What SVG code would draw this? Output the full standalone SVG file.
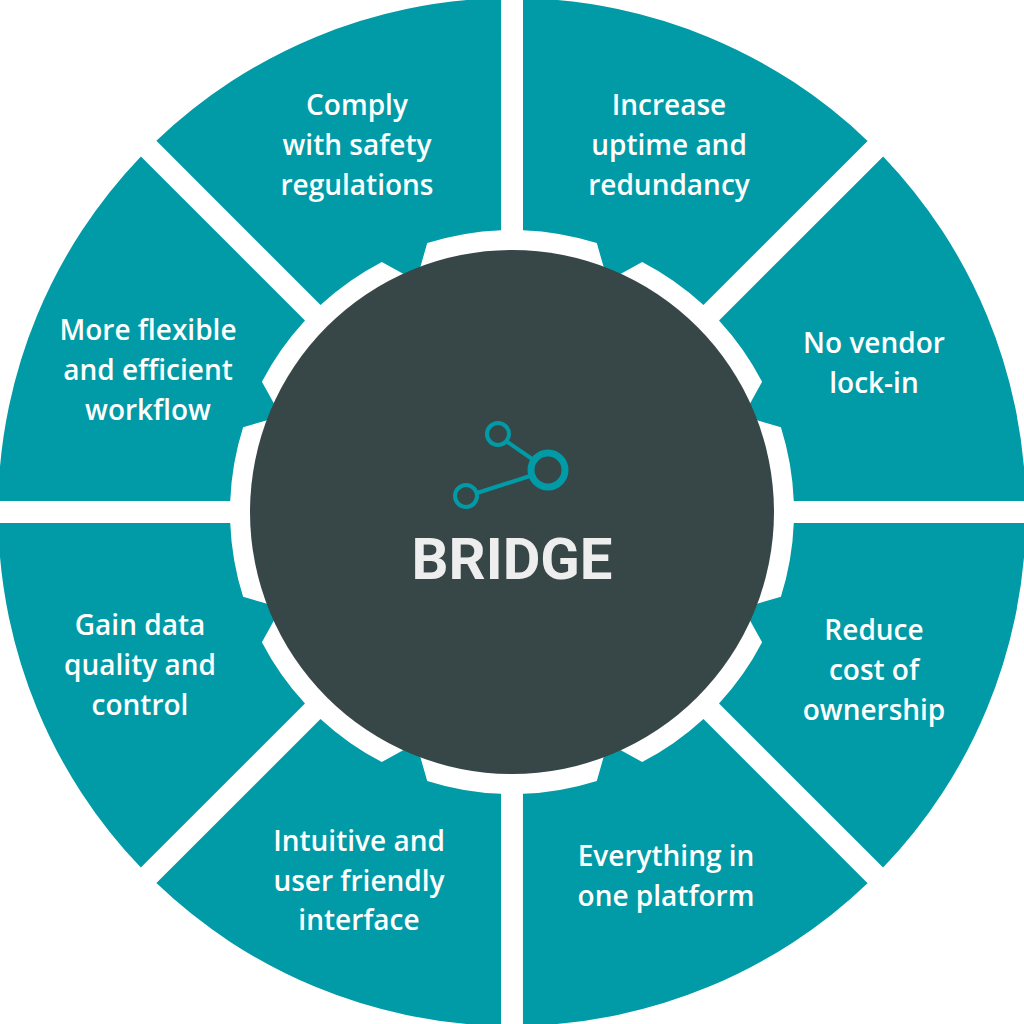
<svg xmlns="http://www.w3.org/2000/svg" width="1024" height="1024" viewBox="0 0 1024 1024">
<style>
.seg{fill:#009ba6}
.lbl{font-family:"Open Sans","Liberation Sans",sans-serif;font-size:28px;font-weight:600;fill:#fff;text-anchor:middle}
</style>
<defs>
<path id="sector" d="M523,230.2 L523,-1.9 A514,514 0 0 1 867.6,140.9 L703.5,305 A282,282 0 0 0 642.2,261.9 L607.7,281 L596.8,243.1 A282,282 0 0 0 523,230.2 Z"/>
</defs>
<rect width="1024" height="1024" fill="#fff"/>
<g id="n-uptime"><use href="#sector" class="seg"/><text class="lbl"><tspan x="669" y="115">Increase</tspan><tspan x="669" y="155">uptime and</tspan><tspan x="669" y="195">redundancy</tspan></text></g>
<g id="n-vendor"><use href="#sector" class="seg" transform="rotate(45 512 512)"/><text class="lbl"><tspan x="874" y="353">No vendor</tspan><tspan x="874" y="393">lock-in</tspan></text></g>
<g id="n-cost"><use href="#sector" class="seg" transform="rotate(90 512 512)"/><text class="lbl"><tspan x="874" y="640">Reduce</tspan><tspan x="874" y="680">cost of</tspan><tspan x="874" y="720">ownership</tspan></text></g>
<g id="n-platform"><use href="#sector" class="seg" transform="rotate(135 512 512)"/><text class="lbl"><tspan x="666" y="866">Everything in</tspan><tspan x="666" y="906">one platform</tspan></text></g>
<g id="n-intuitive"><use href="#sector" class="seg" transform="rotate(180 512 512)"/><text class="lbl"><tspan x="359" y="851">Intuitive and</tspan><tspan x="359" y="891">user friendly</tspan><tspan x="359" y="930">interface</tspan></text></g>
<g id="n-data"><use href="#sector" class="seg" transform="rotate(225 512 512)"/><text class="lbl"><tspan x="140" y="635">Gain data</tspan><tspan x="140" y="675">quality and</tspan><tspan x="140" y="715">control</tspan></text></g>
<g id="n-workflow"><use href="#sector" class="seg" transform="rotate(270 512 512)"/><text class="lbl"><tspan x="148" y="340">More flexible</tspan><tspan x="148" y="380">and efficient</tspan><tspan x="148" y="420">workflow</tspan></text></g>
<g id="n-safety"><use href="#sector" class="seg" transform="rotate(315 512 512)"/><text class="lbl"><tspan x="357" y="115">Comply</tspan><tspan x="357" y="155">with safety</tspan><tspan x="357" y="195">regulations</tspan></text></g>
<g id="n-bridge">
<circle cx="512" cy="512" r="262" fill="#374646"/>
<g fill="none" stroke="#009ba6">
<line x1="506" y1="441" x2="535" y2="461" stroke-width="4"/>
<line x1="477" y1="493" x2="530" y2="476" stroke-width="4"/>
<circle cx="498" cy="434" r="11" stroke-width="4"/>
<circle cx="548" cy="470" r="17" stroke-width="7"/>
<circle cx="466" cy="496" r="11" stroke-width="4"/>
</g>
<text x="512" y="579" font-family="Roboto,'Liberation Sans',sans-serif" font-weight="bold" font-size="58" fill="#eeeeee" text-anchor="middle">BRIDGE</text>
</g>
<g id="connectors"/>
</svg>
